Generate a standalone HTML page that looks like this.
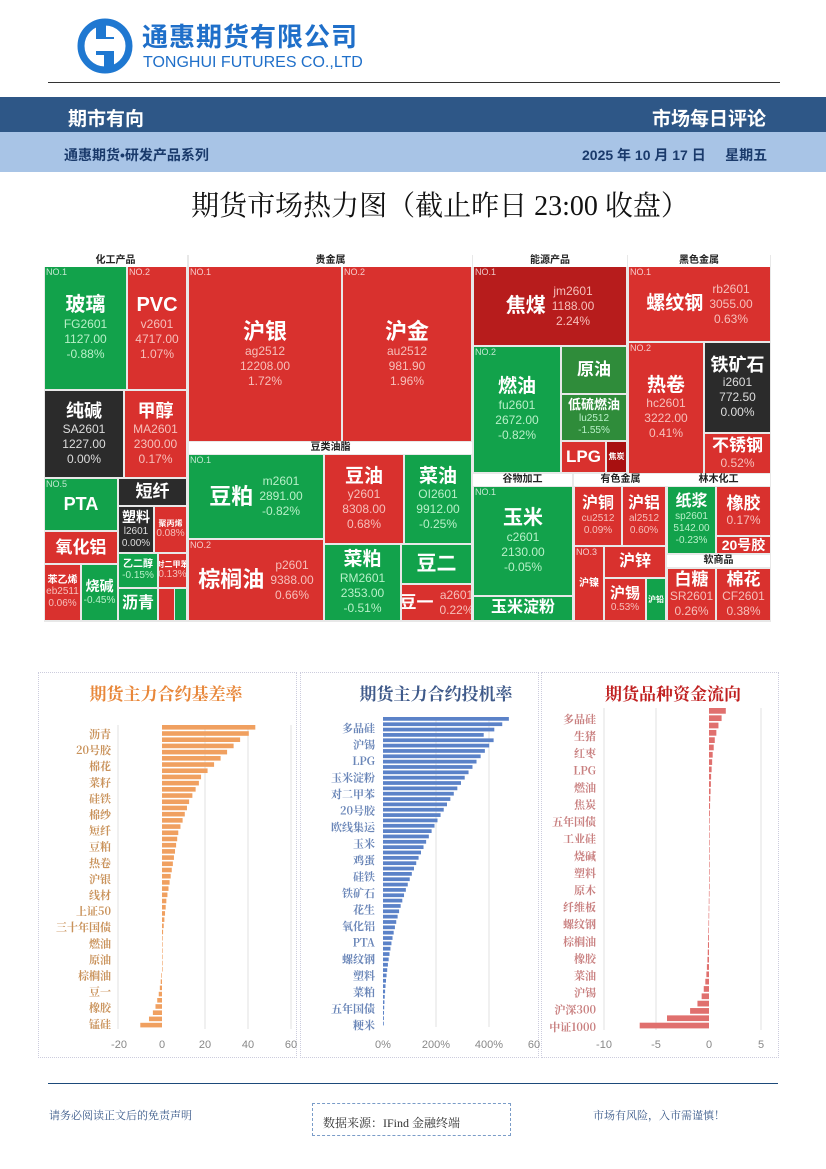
<!DOCTYPE html>
<html><head><meta charset="utf-8">
<style>
*{margin:0;padding:0;box-sizing:border-box}
body{width:826px;height:1169px;background:#fff;position:relative;overflow:hidden;font-family:"Liberation Sans","Noto Sans CJK SC",sans-serif}
.a{position:absolute}
.c{position:absolute;overflow:hidden;color:#fff;text-align:center;line-height:1.15}
.c .n{font-weight:bold;white-space:nowrap}
.c .d{font-size:11px;white-space:nowrap}
.no{position:absolute;left:1px;top:0;font-size:9px;opacity:.75;text-align:left}
.sec{position:absolute;font-size:10px;font-weight:bold;color:#222;text-align:center;line-height:12px;background:#fff}
.panel{position:absolute;border:1px dotted #ccd;}
</style></head><body>
<!-- header -->
<svg class="a" style="left:76px;top:17px" width="58" height="58" viewBox="0 0 58 58">
<circle cx="29" cy="29" r="24" fill="none" stroke="#1f78d1" stroke-width="7"/>
<rect x="20" y="4" width="10" height="34" fill="#1f78d1"/>
<rect x="28" y="20" width="10" height="34" fill="#1f78d1"/>
<rect x="18" y="22" width="20" height="12" fill="#fff"/>
</svg>
<div class="a" style="left:142px;top:18px;font-size:26px;line-height:36px;font-weight:bold;color:#1f6fc9;letter-spacing:1px;font-family:'Noto Sans CJK SC',sans-serif">通惠期货有限公司</div>
<div class="a" style="left:143px;top:54px;font-size:16px;line-height:18px;color:#1f6fc9">TONGHUI FUTURES CO.,LTD</div>
<div class="a" style="left:48px;top:82px;width:732px;height:1px;background:#333"></div>
<div class="a" style="left:0;top:97px;width:826px;height:35px;background:#2e5787"></div>
<div class="a" style="left:68px;top:104px;font-size:19px;font-weight:bold;color:#fff">期市有向</div>
<div class="a" style="left:652px;top:104px;font-size:19px;font-weight:bold;color:#fff">市场每日评论</div>
<div class="a" style="left:0;top:132px;width:826px;height:40px;background:#a8c4e6"></div>
<div class="a" style="left:64px;top:145px;font-size:14px;font-weight:bold;color:#1a3a6b">通惠期货•研发产品系列</div>
<div class="a" style="left:582px;top:145px;font-size:14px;font-weight:bold;color:#1a3a6b;word-spacing:0">2025 年 10 月 17 日&nbsp;&nbsp;&nbsp;&nbsp; 星期五</div>
<div class="a" style="left:0;width:826px;top:190px;text-align:center;font-size:28px;line-height:34px;color:#111;font-family:'Liberation Serif','Noto Serif CJK SC',serif;padding-left:54px">期货市场热力图（截止昨日 23:00 收盘）</div>

<div id="tm" class="a" style="left:44px;top:255px;width:727px;height:367px;background:#e8e8e8"></div>

<div class="panel" style="left:38px;top:672px;width:259px;height:386px"></div>
<div class="panel" style="left:300px;top:672px;width:239px;height:386px"></div>
<div class="panel" style="left:541px;top:672px;width:238px;height:386px"></div>
<svg id="ch" class="a" style="left:0;top:0" width="826" height="1169"></svg>

<div class="a" style="left:48px;top:1083px;width:730px;height:1px;background:#1d4a7a"></div>
<div class="a" style="left:49px;top:1107px;font-size:11px;color:#3a5a8a;font-family:'Liberation Serif','Noto Serif CJK SC',serif">请务必阅读正文后的免责声明</div>
<div class="a" style="left:312px;top:1103px;width:199px;height:33px;border:1px dashed #7a9cc8"></div>
<div class="a" style="left:323px;top:1114px;font-size:12px;color:#333;font-family:'Liberation Serif','Noto Serif CJK SC',serif">数据来源：IFind 金融终端</div>
<div class="a" style="left:593px;top:1107px;font-size:11px;color:#3a5a8a;font-family:'Liberation Serif','Noto Serif CJK SC',serif">市场有风险，入市需谨慎！</div>

<script>
var G='#12a24b',R='#d9312e',DR='#b71c1c',K='#2b2b2b',G2='#2f8c3a',DR2='#a81010';
var tm=document.getElementById('tm'),h='';
function sec(x,y,w,t){h+='<div class="sec" style="left:'+(x-44)+'px;top:'+(y-255)+'px;width:'+w+'px">'+t+'</div>';}
function c(x1,y1,x2,y2,col,n,fs,d,no,side){
 var w=x2-x1,hh=y2-y1;
 var dc=(col==G||col==G2)?'#b8f0c8':(col==K?'#ddd':'#f6c0bb');
 var s='<div class="c" style="left:'+(x1-44)+'px;top:'+(y1-255)+'px;width:'+w+'px;height:'+hh+'px;background:'+col+'">';
 if(no)s+='<div class="no">'+no+'</div>';
 var inner;
 if(side){inner='<div style="display:flex;align-items:center;justify-content:center;height:100%;gap:6px"><span class="n" style="font-size:'+fs+'px">'+n+'</span><span class="d" style="color:'+dc+';font-size:12px;line-height:15px">'+d.join('<br>')+'</span></div>';}
 else{inner='<div style="display:flex;flex-direction:column;align-items:center;justify-content:center;height:100%"><div class="n" style="font-size:'+fs+'px">'+n+'</div>'+(d.length?'<div class="d" style="color:'+dc+';font-size:'+(fs>16?12:10)+'px;line-height:'+(fs>16?15:12)+'px">'+d.join('<br>')+'</div>':'')+'</div>';}
 s+=inner+'</div>';h+=s;}
sec(44,255,143,'化工产品');sec(189,255,283,'贵金属');sec(473,255,154,'能源产品');sec(628,255,142,'黑色金属');
sec(189,442,283,'豆类油脂');sec(473,474,99,'谷物加工');sec(574,474,93,'有色金属');sec(667,474,103,'林木化工');sec(667,555,103,'软商品');
c(45,267,126,389,G,'玻璃',20,['FG2601','1127.00','-0.88%'],'NO.1');
c(128,267,186,389,R,'PVC',20,['v2601','4717.00','1.07%'],'NO.2');
c(45,391,123,477,K,'纯碱',18,['SA2601','1227.00','0.00%']);
c(125,391,186,477,R,'甲醇',18,['MA2601','2300.00','0.17%']);
c(45,479,117,530,G,'PTA',18,[],'NO.5');
c(119,479,186,505,K,'短纤',17,[]);
c(119,507,153,552,K,'塑料',14,['l2601','0.00%']);
c(155,507,186,552,R,'聚丙烯',8,['0.08%']);
c(45,532,117,563,R,'氧化铝',17,[]);
c(119,554,157,587,G,'乙二醇',10,['-0.15%']);
c(159,554,186,587,R,'对二甲苯',8,['0.13%']);
c(45,565,80,620,R,'苯乙烯',10,['eb2511','0.06%']);
c(82,565,117,620,G,'烧碱',14,['-0.45%']);
c(119,589,157,620,G,'沥青',16,[]);
c(159,589,174,620,R,'',8,[]);c(175,589,186,620,G,'',8,[]);
c(189,267,341,441,R,'沪银',22,['ag2512','12208.00','1.72%'],'NO.1');
c(343,267,471,441,R,'沪金',22,['au2512','981.90','1.96%'],'NO.2');
c(189,455,323,538,G,'豆粕',22,['m2601','2891.00','-0.82%'],'NO.1',1);
c(325,455,403,543,R,'豆油',19,['y2601','8308.00','0.68%']);
c(405,455,471,543,G,'菜油',19,['OI2601','9912.00','-0.25%']);
c(189,540,323,620,R,'棕榈油',22,['p2601','9388.00','0.66%'],'NO.2',1);
c(325,545,400,620,G,'菜粕',19,['RM2601','2353.00','-0.51%']);
c(402,545,471,583,G,'豆二',20,[]);
c(402,585,471,620,R,'豆一',17,['a2601','0.22%'],0,1);
c(474,267,626,345,DR,'焦煤',20,['jm2601','1188.00','2.24%'],'NO.1',1);
c(474,347,560,472,G,'燃油',19,['fu2601','2672.00','-0.82%'],'NO.2');
c(562,347,626,393,G2,'原油',17,[]);
c(562,395,626,440,G2,'低硫燃油',13,['lu2512','-1.55%']);
c(562,442,605,472,R,'LPG',17,[]);
c(607,442,626,472,DR2,'焦炭',8,[]);
c(474,487,572,595,G,'玉米',20,['c2601','2130.00','-0.05%'],'NO.1');
c(474,597,572,620,G,'玉米淀粉',16,[]);
c(575,487,621,545,R,'沪铜',16,['cu2512','0.09%']);
c(623,487,665,545,R,'沪铝',16,['al2512','0.60%']);
c(575,547,603,620,R,'沪镍',10,[],'NO.3');
c(605,547,665,577,R,'沪锌',16,[]);
c(605,579,645,620,R,'沪锡',15,['0.53%']);
c(647,579,665,620,G,'沪铅',8,[]);
c(668,487,715,553,G,'纸浆',16,['sp2601','5142.00','-0.23%']);
c(717,487,770,535,R,'橡胶',17,['0.17%']);
c(717,537,770,553,R,'20号胶',14,[]);
c(668,569,715,620,R,'白糖',17,['SR2601','0.26%']);
c(717,569,770,620,R,'棉花',17,['CF2601','0.38%']);
c(629,267,770,341,R,'螺纹钢',19,['rb2601','3055.00','0.63%'],'NO.1',1);
c(629,343,703,473,R,'热卷',19,['hc2601','3222.00','0.41%'],'NO.2');
c(705,343,770,432,K,'铁矿石',18,['i2601','772.50','0.00%']);
c(705,434,770,473,R,'不锈钢',17,['0.52%']);
tm.innerHTML=h;

var s='';
function t(x,y,str,col,fs,anc,bold,fam){s+='<text x="'+x+'" y="'+y+'" fill="'+col+'" font-size="'+fs+'" text-anchor="'+(anc||'start')+'"'+(bold?' font-weight="bold"':'')+' font-family="'+(fam||"Liberation Serif,Noto Serif CJK SC,serif")+'">'+str+'</text>';}
function chart(o){
 o.grid.forEach(function(g){s+='<line x1="'+g+'" y1="'+o.y0+'" x2="'+g+'" y2="'+o.y1+'" stroke="#e2e2e2"/>';});
 var n=o.vals.length,step=(o.y1-o.y0)/n;
 o.vals.forEach(function(v,i){var x=o.zx+v*o.k,xa=Math.min(x,o.zx),w=Math.abs(x-o.zx);
  s+='<rect x="'+xa+'" y="'+(o.y0+i*step)+'" width="'+Math.max(w,0.6)+'" height="'+(step-1.6)+'" fill="'+o.col+'"/>';});
 o.labels.forEach(function(l,i){t(o.lx,o.ly0+i*o.ls,l,o.lc,11,'end',1,'Noto Serif CJK SC,serif');});
 o.ticks.forEach(function(tk){t(tk[0],1048,tk[1],'#888',11,'middle',0,'Liberation Sans,sans-serif');});
 t(o.tx,700,o.title,o.tc,17,'middle',1,'Noto Serif CJK SC,serif');
}
var v1=[43,40,36,33,30,27,24,21,18,17,15.5,14,12.5,11.5,10.5,9.5,8.5,7.5,7,6.5,6,5.5,5,4.5,4,3.5,3,2.5,2,1.7,1.4,1.1,0.8,0.5,0.3,0.2,0.1,0,0,0,-0.3,-0.6,-1,-1.5,-2.2,-3,-4.2,-6,-10];
chart({grid:[118,205,248,291],zx:162,k:2.17,y0:725,y1:1029,col:'#f0a060',vals:v1,
 labels:['沥青','20号胶','棉花','菜籽','硅铁','棉纱','短纤','豆粕','热卷','沪银','线材','上证50','三十年国债','燃油','原油','棕榈油','豆一','橡胶','锰硅'],
 lx:111,ly0:738,ls:16.1,lc:'#c9925a',ticks:[[119,'-20'],[162,'0'],[205,'20'],[248,'40'],[291,'60']],tx:166,title:'期货主力合约基差率',tc:'#e8873a'});
var v2=[];for(var i=0;i<58;i++){var f=i/57;v2.push(470*Math.pow(1-f,2.2)+15*(1-f)+3);}
v2[0]=475;v2[1]=450;v2[2]=420;v2[3]=380;
chart({grid:[436,489],zx:383,k:0.265,y0:717,y1:1027,col:'#5b82c8',vals:v2,
 labels:['多晶硅','沪锡','LPG','玉米淀粉','对二甲苯','20号胶','欧线集运','玉米','鸡蛋','硅铁','铁矿石','花生','氧化铝','PTA','螺纹钢','塑料','菜粕','五年国债','粳米'],
 lx:375,ly0:732,ls:16.5,lc:'#6a86b8',ticks:[[383,'0%'],[436,'200%'],[489,'400%'],[534,'60']],tx:436,title:'期货主力合约投机率',tc:'#3f5a8a'});
var v3=[1.6,1.2,0.9,0.7,0.55,0.45,0.35,0.3,0.25,0.2,0.18,0.15,0.12,0.1,0.08,0.06,0.05,0.04,0.03,0.02,0.01,0,0,0,0,-0.01,-0.02,-0.03,-0.04,-0.05,-0.06,-0.08,-0.1,-0.12,-0.15,-0.2,-0.25,-0.35,-0.5,-0.7,-1.1,-1.8,-4,-6.6];
chart({grid:[604,656,761],zx:709,k:10.5,y0:708,y1:1030,col:'#e0706e',vals:v3,
 labels:['多晶硅','生猪','红枣','LPG','燃油','焦炭','五年国债','工业硅','烧碱','塑料','原木','纤维板','螺纹钢','棕榈油','橡胶','菜油','沪锡','沪深300','中证1000'],
 lx:596,ly0:723,ls:17.1,lc:'#c98080',ticks:[[604,'-10'],[656,'-5'],[709,'0'],[761,'5']],tx:673,title:'期货品种资金流向',tc:'#c02020'});
document.getElementById('ch').innerHTML=s;
</script>
</body></html>
